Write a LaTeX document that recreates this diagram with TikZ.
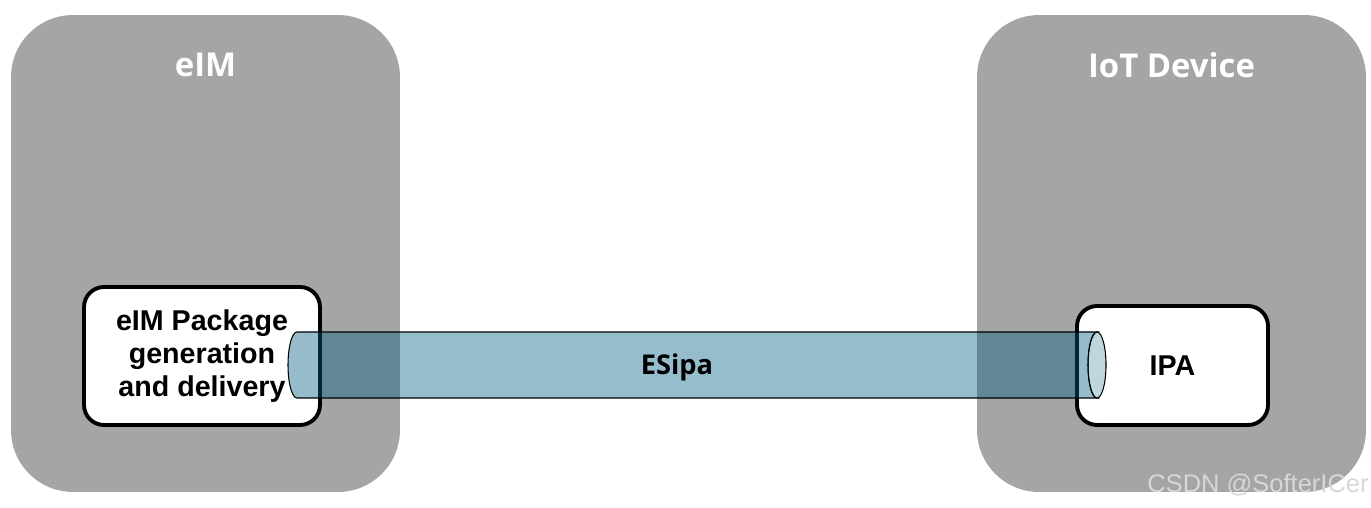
\documentclass[tikz,border=0pt]{standalone}
\usepackage{fontspec}
\setmainfont{Liberation Sans}
\newfontfamily\titlefont{Open Sans}
\usetikzlibrary{positioning}
\definecolor{boxgray}{RGB}{165,165,165}
\definecolor{pipeblue}{RGB}{0,94,131}
\definecolor{markgray}{RGB}{215,215,215}
\tikzset{
  side/.style={fill=boxgray, rounded corners=1.24cm, minimum width=7.78cm, minimum height=9.54cm, inner sep=0pt},
  sidetitle/.style={text=white, font=\titlefont\fontsize{18.7}{22}\selectfont\bfseries},
  func/.style={draw=black, line width=2.2pt, fill=white, rounded corners=0.4cm, inner sep=0pt, align=center,
    font=\fontsize{16.3}{18.7}\selectfont\bfseries},
}
\begin{document}
\begin{tikzpicture}[x=0.02cm, y=0.02cm]
    \useasboundingbox (0,0) rectangle (1371,507);
    \clip (0,0) rectangle (1371,507);

    % blocks
    \node [side] (eim) at (205.5,253.5) {};
    \node [side] (iot) at (1171.5,253.5) {};
    \node [sidetitle, below=0.64cm of eim.north] (eimtitle) {eIM};
    \node [sidetitle, below=0.64cm of iot.north] (iottitle) {IoT Device};

    % functions
    \node [func, minimum width=4.72cm, minimum height=2.76cm] (pkg) at (202,151) {eIM Package\\generation\\and delivery};
    \node [func, minimum width=3.82cm, minimum height=2.38cm] (ipa) at (1172.5,141.5) {IPA};

    % interface
    \def \ry {33};
    \def \rx {9};
    \coordinate (tl) at (297,142);
    \coordinate (tr) at (1097,142);
    \draw [fill=pipeblue, fill opacity=0.41, line width=0.6pt]
        ([yshift=\ry*0.02cm]tl) -- ([yshift=\ry*0.02cm]tr)
        arc [start angle=90, end angle=270, x radius=\rx, y radius=\ry]
        -- ([yshift=-\ry*0.02cm]tl)
        arc [start angle=270, end angle=90, x radius=\rx, y radius=\ry] -- cycle;
    \draw [fill=pipeblue, fill opacity=0.25, line width=0.6pt] (tr) ellipse [x radius=\rx, y radius=\ry];
    \node [font=\titlefont\fontsize{15.5}{18}\selectfont\bfseries] (esipa) at (677,140) {ESipa};

    % watermark
    \node [anchor=base west, text=markgray, font=\fontsize{14.5}{16}\selectfont, inner sep=0pt] (mark) at (1147,15) {CSDN @SofterICer};
\end{tikzpicture}
\end{document}
